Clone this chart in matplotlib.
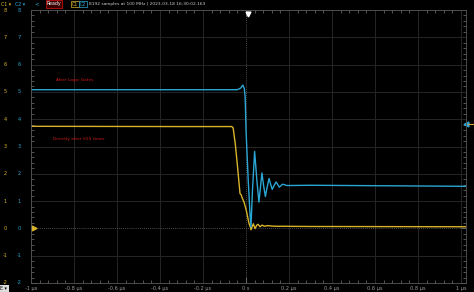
#Oscilloscope capture: 555 timer output vs signal after logic gates

#import modules
import numpy as np
import matplotlib.pyplot as plt
from matplotlib.transforms import blended_transform_factory

#trace data (time in us, volts)
c1_t = [-1.0, -0.30, -0.066, -0.060, -0.050, -0.040, -0.028, -0.022, -0.019, -0.014, -0.009,
        0.000, 0.014, 0.020, 0.023, 0.028, 0.034, 0.042, 0.050, 0.056, 0.065, 0.075,
        0.085, 0.100, 0.130, 0.300, 1.05]
c1_v = [3.74, 3.73, 3.73, 3.68, 3.10, 2.30, 1.28, 1.22, 1.14, 1.05, 0.95,
        0.70, 0.18, 0.05, -0.05, 0.05, 0.17, -0.01, 0.12, 0.15, 0.06, 0.12,
        0.08, 0.10, 0.08, 0.07, 0.06]
c2_t = [-1.0, -0.30, -0.040, -0.025, -0.015, -0.008, -0.004, 0.000, 0.010, 0.018, 0.023,
        0.030, 0.040, 0.050, 0.060, 0.067, 0.074, 0.082, 0.090, 0.098, 0.107, 0.115,
        0.122, 0.131, 0.140, 0.148, 0.155, 0.170, 0.190, 0.300, 1.05]
c2_v = [5.08, 5.08, 5.08, 5.14, 5.25, 5.12, 4.80, 3.60, 1.80, 0.60, 0.05,
        1.40, 2.82, 1.80, 0.96, 1.50, 2.03, 1.55, 1.17, 1.50, 1.83, 1.60,
        1.43, 1.58, 1.70, 1.60, 1.51, 1.62, 1.57, 1.58, 1.54]

xticks = [-1, -0.8, -0.6, -0.4, -0.2, 0, 0.2, 0.4, 0.6, 0.8, 1]
xlabels = ["-1 µs", "-0.8 µs", "-0.6 µs", "-0.4 µs", "-0.2 µs", "0 s",
           "0.2 µs", "0.4 µs", "0.6 µs", "0.8 µs", "1 µs"]
yticks = [8, 7, 6, 5, 4, 3, 2, 1, 0, -1, -2]

yellow = "#d9b42a"
blue = "#2ba6d4"
grey = "#9a9a9a"

fig = plt.figure(figsize=(4.74, 2.92), dpi=100, facecolor="black")
ax = fig.add_axes([31/474, 9/292, 435/474, 273/292], facecolor="black")

#grid
for x in xticks:
    if x == 0:
        ax.axvline(x, color="#666666", lw=0.6, ls=(0, (1, 1.5)))
    else:
        ax.axvline(x, color="#262626", lw=0.7)
for y in yticks:
    if y == 0:
        ax.axhline(y, color="#666666", lw=0.6, ls=(0, (1, 1.5)))
    else:
        ax.axhline(y, color="#262626", lw=0.7)

#traces
ax.plot(c1_t, c1_v, color=yellow, lw=1.0, solid_joinstyle="round")
ax.plot(c2_t, c2_v, color=blue, lw=1.0, solid_joinstyle="round")

ax.set_xlim(-1, 1.023)
ax.set_ylim(-2, 8)

#ruler ticks
ax.set_xticks(xticks)
ax.set_xticks(np.arange(-1, 1.01, 0.04), minor=True)
ax.set_yticks(yticks)
ax.set_yticks(np.arange(-2, 8.01, 0.2), minor=True)
ax.tick_params(which="both", direction="in", colors="#777777", top=True, right=True,
               labelleft=False, labelbottom=False)
ax.tick_params(which="major", length=4, width=0.6)
ax.tick_params(which="minor", length=2, width=0.5)
for s in ax.spines.values():
    s.set_color("#555555")
    s.set_linewidth(0.6)

#x labels
for x, lab in zip(xticks, xlabels):
    ax.text(x, -2.12, lab, color=grey, fontsize=3.6, ha="center", va="top")

#two channel y scales on the left
tr = blended_transform_factory(fig.transFigure, ax.transData)
for y in yticks:
    ax.text(5/474, y, str(y), color=yellow, fontsize=3.6, ha="center", va="center", transform=tr)
    ax.text(19/474, y, str(y), color=blue, fontsize=3.6, ha="center", va="center", transform=tr)

#annotations
ax.text(-0.884, 5.45, "After Logic Gates", color="#d01818", fontsize=3.2, va="center")
ax.text(-0.898, 3.29, "Directly after 555 timer", color="#d01818", fontsize=3.2, va="center")

#markers: ground, trigger level, trigger time
ax.plot([-0.985], [0], marker=">", color=yellow, ms=3.5, clip_on=False)
ax.plot([1.023], [3.82], marker="<", color=blue, ms=3.5, clip_on=False)
ax.plot([1.03, 1.06], [3.82, 3.82], color="#e0a030", lw=0.8, clip_on=False)
ax.plot([0.01], [7.85], marker="v", color="white", ms=3.5, clip_on=False)

#header bar
fig.text(1/474, 1 - 4/292, "C1 ▾", color=yellow, fontsize=3.4, va="center")
fig.text(15/474, 1 - 4/292, "C2 ▾", color=blue, fontsize=3.4, va="center")
fig.text(34/474, 1 - 4/292, "<", color=blue, fontsize=4, va="center")
fig.text(54/474, 1 - 4/292, "Ready", color="white", fontsize=3.4, va="center", ha="center",
         bbox=dict(boxstyle="square,pad=0.25", fc="#3a0000", ec="#c01010", lw=0.6))
fig.text(72/474, 1 - 4/292, "C1", color=yellow, fontsize=3.4, va="center",
         bbox=dict(boxstyle="square,pad=0.2", fc="black", ec=yellow, lw=0.5))
fig.text(80/474, 1 - 4/292, "C2", color=blue, fontsize=3.4, va="center",
         bbox=dict(boxstyle="square,pad=0.2", fc="black", ec=blue, lw=0.5))
fig.text(89/474, 1 - 4/292, "8192 samples at 100 MHz | 2023-03-18 16:30:02.163",
         color="#cccccc", fontsize=3.2, va="center")
fig.text(0.5/474, 3/292, "E ▾", color="black", fontsize=3.4, va="center",
         bbox=dict(boxstyle="square,pad=0.25", fc="#dddddd", ec="none"))

#output the plot to a file
plt.savefig("out.png", dpi=100, facecolor="black")
